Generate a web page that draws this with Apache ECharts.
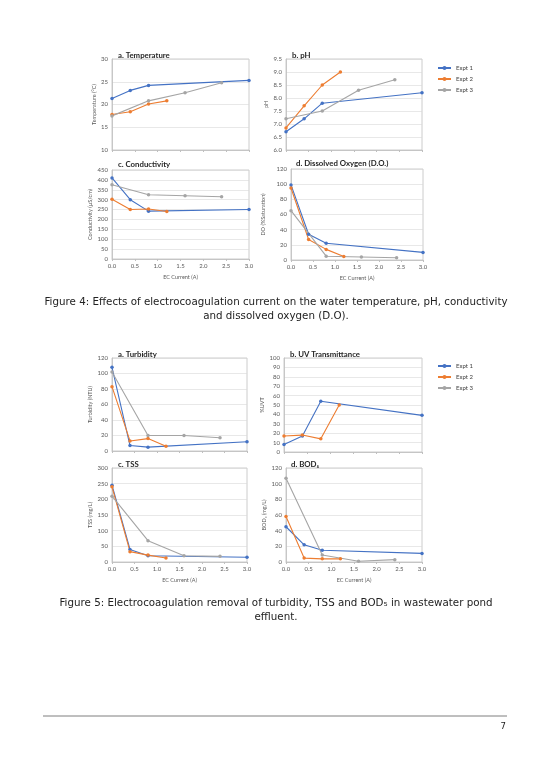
<!DOCTYPE html>
<html><head><meta charset="utf-8">
<script src="https://cdn.jsdelivr.net/npm/echarts@6/dist/echarts.min.js"></script>
<style>html,body{margin:0;padding:0;background:#fff}#c{width:550px;height:778px}</style>
</head><body><div id="c"></div>
<script>
// X positions (EC current, A) for each experiment
const xExpt1 = [0, 0.4, 0.8, 3.0];
const xExpt2 = [0, 0.4, 0.8, 1.2];
const xExpt3 = [0, 0.8, 1.6, 2.4];
const seriesNames = ['Expt 1', 'Expt 2', 'Expt 3'];

// Figure 4
const temp1 = [21.3, 23.1, 24.2, 25.3];
const temp2 = [17.8, 18.4, 20.1, 20.8];
const temp3 = [17.5, 20.8, 22.6, 24.8];
const ph1 = [6.7, 7.2, 7.8, 8.2];
const ph2 = [6.85, 7.7, 8.5, 9.0];
const ph3 = [7.2, 7.5, 8.3, 8.7];
const cond1 = [410, 300, 242, 250];
const cond2 = [302, 250, 253, 240];
const cond3 = [375, 325, 320, 315];
const do1 = [99, 34, 22, 10];
const do2 = [95, 27, 14, 4.5];
const do3 = [65, 5, 4, 3];
// Figure 5
const turb1 = [108, 7, 5, 12];
const turb2 = [83, 13, 16, 6];
const turb3 = [102, 20, 20, 17];
const uv1 = [8, 17, 54, 39];
const uv2 = [17, 18, 14, 50];
const tss1 = [245, 40, 20, 15];
const tss2 = [240, 33, 22, 13];
const tss3 = [210, 68, 20, 18];
const bod1 = [45, 22, 15, 11];
const bod2 = [58, 5, 4, 4];
const bod3 = [107, 9, 1, 3];

const panelTitles = ['a. Temperature','b. pH','c. Conductivity','d. Dissolved Oxygen (D.O.)',
  'a. Turbidity','b. UV Transmittance','c. TSS','d. BOD₅'];
const yNames = ['Temperature (°C)','pH','Conductivity (µS/cm)','DO (%Saturation)',
  'Turbidity (NTU)','%UVT','TSS (mg/L)','BOD₅ (mg/L)'];
const yMin = [10, 6, 0, 0, 0, 0, 0, 0];
const yMax = [30, 9.5, 450, 120, 120, 100, 300, 120];
const yStep = [5, 0.5, 50, 20, 20, 10, 50, 20];
const xTitle = 'EC Current (A)';
const caption4 = ['Figure 4: Effects of electrocoagulation current on the water temperature, pH, conductivity',
  'and dissolved oxygen (D.O).'];
const caption5 = ['Figure 5: Electrocoagulation removal of turbidity, TSS and BOD₅ in wastewater pond',
  'effluent.'];
const pageNumber = '7';

const panelData = [
  [temp1, temp2, temp3], [ph1, ph2, ph3], [cond1, cond2, cond3], [do1, do2, do3],
  [turb1, turb2, turb3], [uv1, uv2, null], [tss1, tss2, tss3], [bod1, bod2, bod3]
];
const xs = [xExpt1, xExpt2, xExpt3];

// layout
const grids = [
  {left:112, top:59, width:137, height:91},
  {left:286, top:59, width:136, height:91},
  {left:112, top:170, width:137, height:89},
  {left:291, top:169, width:132, height:91},
  {left:112, top:358, width:135, height:93},
  {left:284, top:358, width:138, height:94},
  {left:112, top:468, width:135, height:94},
  {left:286, top:468, width:136, height:94}
];
const nameGaps = [15, 17, 19, 25, 17, 16, 17, 16];
const showXLabels = [false,false,true,true,false,false,true,true];
const colors = ['#4472C4','#ED7D31','#A5A5A5'];
const FONT = 'Lato, "Open Sans", sans-serif';

const option = {
  animation:false,
  backgroundColor:'#fff',
  color: colors,
  title: panelTitles.map((t,i)=>({
    text:t, left: grids[i].left + (i===3||i===7?0:1), top: grids[i].top - (i===2||i===3?15:13),
    textStyle:{fontSize:7.8, fontWeight:'bold', color:'#262626', fontFamily:FONT}
  })),
  legend: [
    {data:seriesNames, orient:'vertical', left:432, top:60, itemWidth:13, itemHeight:5, itemGap:5,
      textStyle:{fontSize:6, color:'#404040', fontFamily:FONT}},
    {data:seriesNames, orient:'vertical', left:432, top:358, itemWidth:13, itemHeight:5, itemGap:5,
      textStyle:{fontSize:6, color:'#404040', fontFamily:FONT}}
  ],
  grid: grids.map(g=>Object.assign({show:true, borderColor:'#bfbfbf', borderWidth:0.8, containLabel:false}, g)),
  xAxis: grids.map((g,i)=>({
    type:'value', gridIndex:i, min:0, max:3, interval:0.5,
    name: showXLabels[i] ? xTitle : '', nameLocation:'middle', nameGap:15,
    nameTextStyle:{fontSize:5.5, color:'#595959', fontFamily:FONT},
    axisLine:{show:true, lineStyle:{color:'#bfbfbf', width:0.8}},
    axisTick:{show:true, length:2, lineStyle:{color:'#bfbfbf'}},
    axisLabel:{show:showXLabels[i], fontSize:6, color:'#595959', margin:4, fontFamily:FONT,
      formatter:v=>v.toFixed(1)},
    splitLine:{show:false}
  })),
  yAxis: grids.map((g,i)=>({
    type:'value', gridIndex:i, min:yMin[i], max:yMax[i], interval:yStep[i],
    name:yNames[i], nameLocation:'middle', nameGap:nameGaps[i], nameRotate:90,
    nameTextStyle:{fontSize:5.5, color:'#595959', fontFamily:FONT},
    axisLine:{show:true, lineStyle:{color:'#bfbfbf', width:0.8}},
    axisTick:{show:false},
    axisLabel:{fontSize:6, color:'#595959', margin:4, fontFamily:FONT,
      formatter: v => i===1 ? v.toFixed(1) : String(v)},
    splitLine:{show:true, lineStyle:{color:'#d9d9d9', width:0.6}}
  })),
  series: [],
  graphic: []
};

panelData.forEach((sets,i)=>{
  sets.forEach((vals,k)=>{
    if(!vals) return;
    option.series.push({
      type:'line', name:seriesNames[k], xAxisIndex:i, yAxisIndex:i,
      data: vals.map((v,j)=>[xs[k][j], v]),
      symbol:'circle', symbolSize:3.5, showSymbol:true,
      lineStyle:{width:1.1, color:colors[k]}, itemStyle:{color:colors[k]}
    });
  });
});
// Keep Expt 3 present for the second legend
option.series.push({type:'line', name:'Expt 3', xAxisIndex:5, yAxisIndex:5, data:[],
  symbol:'circle', symbolSize:3.5, lineStyle:{width:1.1,color:colors[2]}, itemStyle:{color:colors[2]}});

const capStyle = {fontSize:10.3, fill:'#222', fontFamily:'"DejaVu Sans", Verdana, sans-serif', textAlign:'center', textVerticalAlign:'middle'};
[[caption4,302],[caption5,603]].forEach(([lines,y0])=>{
  lines.forEach((t,j)=>{
    option.graphic.push({type:'text', x:276, y:y0 + j*14, style:Object.assign({text:t}, capStyle)});
  });
});
option.graphic.push({type:'line', shape:{x1:43,y1:716,x2:507,y2:716}, style:{stroke:'#7f7f7f', lineWidth:1}});
option.graphic.push({type:'text', x:506, y:727, style:{text:pageNumber, fontSize:8.5, fill:'#222',
  fontFamily:'"DejaVu Sans", sans-serif', textAlign:'right', textVerticalAlign:'middle'}});

const chart = echarts.init(document.getElementById('c'), null, {renderer:'canvas'});
chart.setOption(option);
</script>
</body></html>
